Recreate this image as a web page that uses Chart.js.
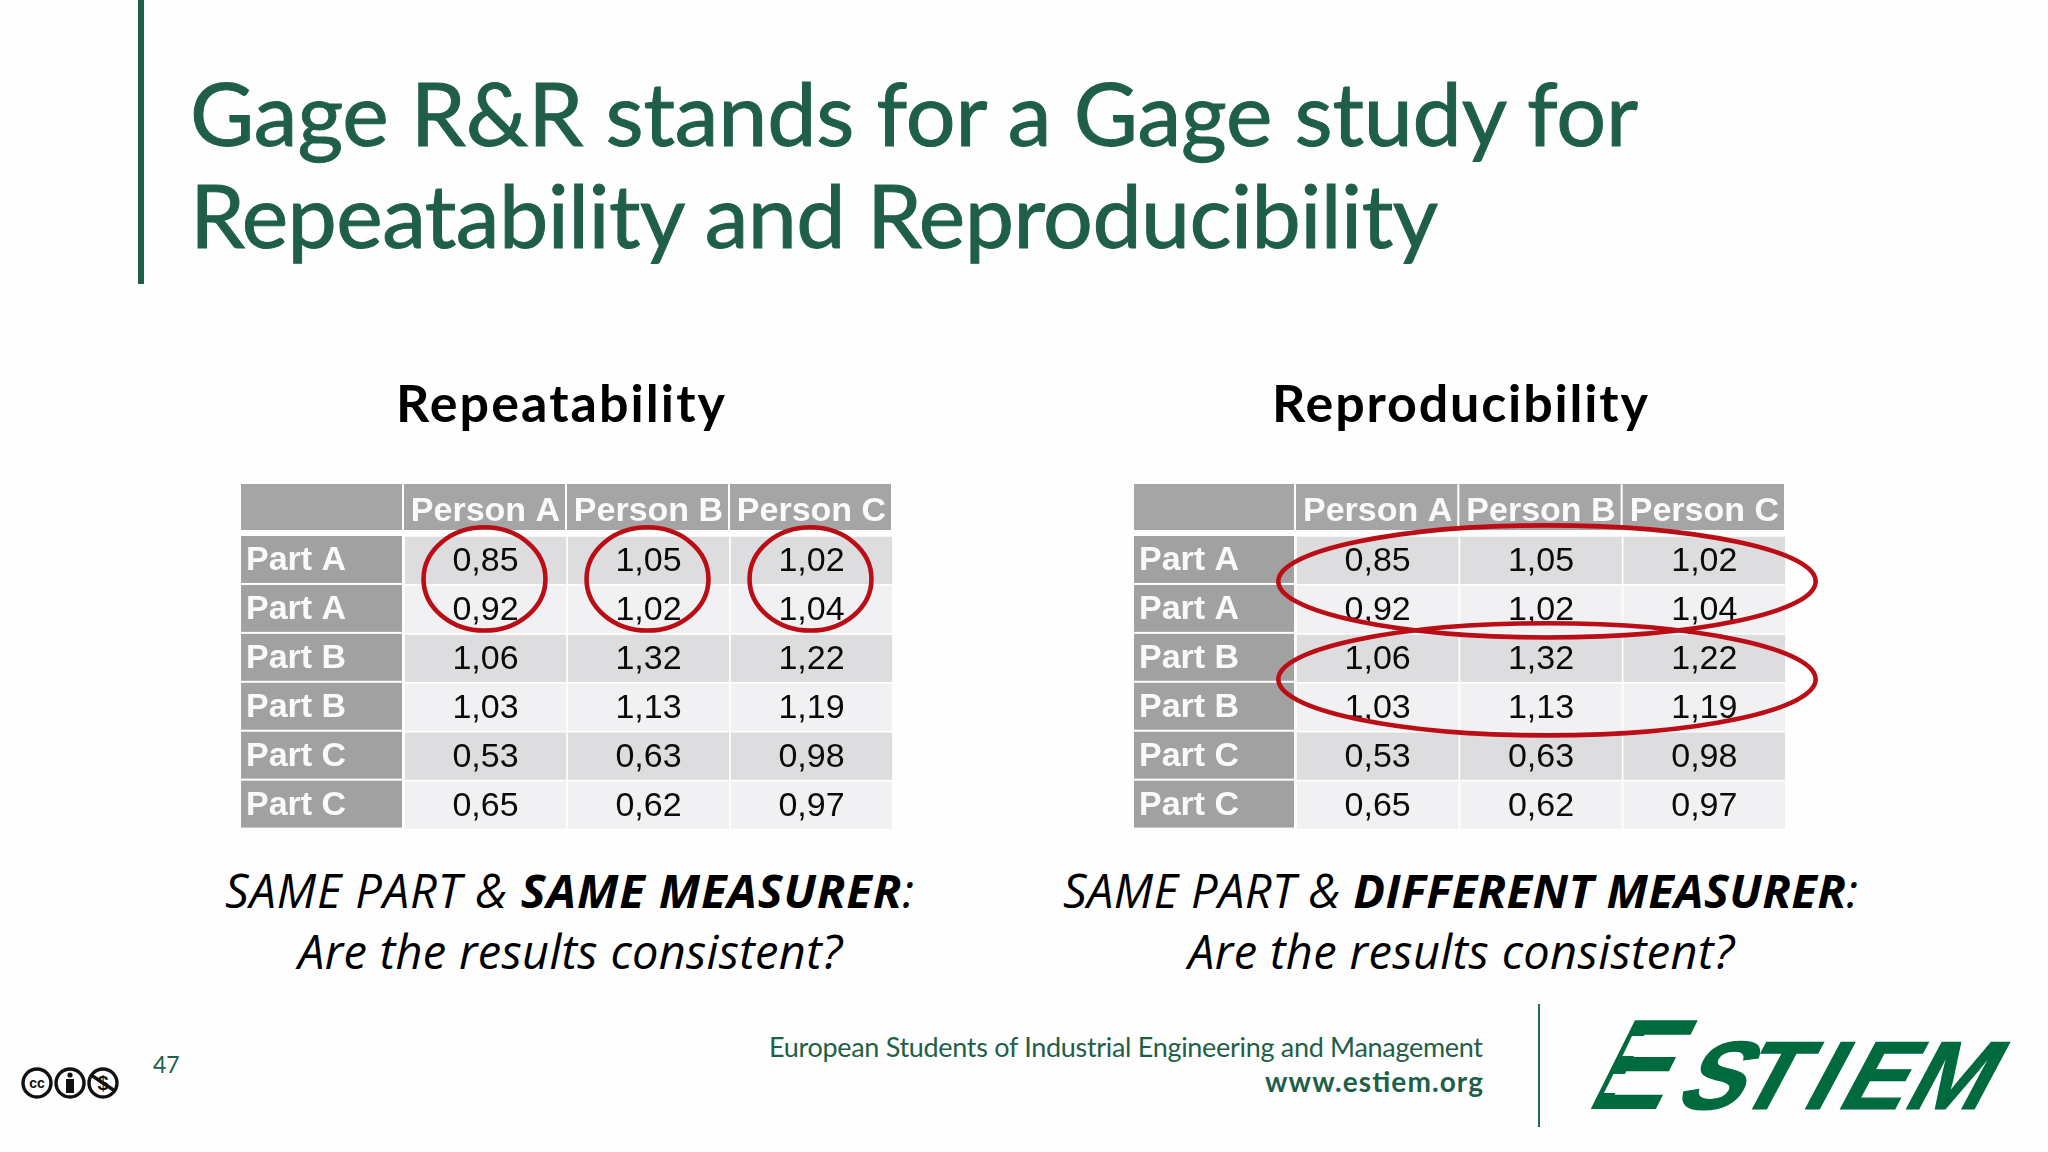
<!DOCTYPE html>
<html><head><meta charset="utf-8">
<script src="https://cdn.jsdelivr.net/npm/chart.js@4/dist/chart.umd.min.js"></script>
<style>
html,body{margin:0;padding:0;width:2048px;height:1152px;overflow:hidden;background:#fefefe}
svg.page{position:absolute;left:0;top:0}
canvas{position:absolute}
</style></head><body>
<svg class="page" width="2048" height="1152" xmlns="http://www.w3.org/2000/svg">
  <rect x="138" y="0" width="6" height="284" fill="#1f5f47"/>
  <g font-family="Lato" fill="#1f5f47" stroke="#1f5f47" stroke-width="1" font-size="88">
    <text x="190" y="146" textLength="1448">Gage R&amp;R stands for a Gage study for</text>
    <text x="190" y="248" textLength="1248">Repeatability and Reproducibility</text>
  </g>
  <g font-family="Lato" font-weight="700" font-size="52" fill="#000">
    <text x="396" y="422" textLength="329">Repeatability</text>
    <text x="1272" y="422" textLength="376">Reproducibility</text>
  </g>
  <g font-family="Open Sans" font-style="italic" font-size="47" fill="#000">
    <text x="225" y="908" textLength="689">SAME PART &amp; <tspan font-weight="700">SAME MEASURER</tspan>:</text>
    <text x="298" y="969" textLength="544">Are the results consistent?</text>
    <text x="1063" y="908" textLength="795">SAME PART &amp; <tspan font-weight="700">DIFFERENT MEASURER</tspan>:</text>
    <text x="1188" y="969" textLength="546">Are the results consistent?</text>
  </g>
  <text x="153" y="1073" font-family="Lato" font-size="23" fill="#1f5f47">47</text>
  <g fill="none" stroke="#111" stroke-width="3.4">
    <circle cx="37" cy="1083" r="14"/><circle cx="70" cy="1083" r="14"/><circle cx="103" cy="1083" r="14"/>
    <line x1="91" y1="1075" x2="115" y2="1091"/>
  </g>
  <text x="37" y="1088" text-anchor="middle" font-family="Liberation Sans" font-weight="700" font-size="14" fill="#111">cc</text>
  <circle cx="70" cy="1075" r="2.6" fill="#111"/>
  <rect x="66" y="1079" width="8" height="14" fill="#111"/>
  <text x="103" y="1090" text-anchor="middle" font-family="Liberation Sans" font-weight="700" font-size="20" fill="#111">$</text>
  <g font-family="Lato" fill="#1f5f47">
    <text x="769" y="1057" font-size="27" textLength="714">European Students of Industrial Engineering and Management</text>
    <text x="1265" y="1092" font-size="28" font-weight="700" textLength="218">www.estiem.org</text>
  </g>
  <rect x="1538" y="1004" width="2" height="123" fill="#1f7050"/>
  <g font-family="Liberation Sans" font-weight="700" fill="#006a3f">
    <text transform="translate(1583,1109) skewX(-26.5) scale(0.9,1)" font-size="129">E</text>
    <polygon points="1632,1036 1715,1036 1705,1056 1622.5,1056" fill="#fefefe"/>
    <polygon points="1613.5,1074 1685,1074 1675,1093 1604,1093" fill="#fefefe"/>
    <text transform="translate(0,1109) skewX(-28)" font-size="97" stroke="#006a3f" stroke-width="1.2" x="1672 1730 1799 1834 1900">STIEM</text>
  </g>
</svg>
<canvas id="tableLeft" width="700" height="380" style="left:220px;top:470px;width:700px;height:380px"></canvas>
<canvas id="tableRight" width="730" height="380" style="left:1110px;top:470px;width:730px;height:380px"></canvas>
<script>
const partLabels = ['Part A','Part A','Part B','Part B','Part C','Part C'];
const personLabels = ['Person A','Person B','Person C'];
const personAValues = [0.85,0.92,1.06,1.03,0.53,0.65];
const personBValues = [1.05,1.02,1.32,1.13,0.63,0.62];
const personCValues = [1.02,1.04,1.22,1.19,0.98,0.97];
const repeatabilityGroups = [[0,0,1],[1,0,1],[2,0,1]];
const reproducibilityGroups = [[1,0,1],[1,2,3]];

const seriesValues = [personAValues, personBValues, personCValues];
const fmt = v => v.toFixed(2).replace('.', ',');
const FONT = '"Liberation Sans"';

function tablePlugin(groups, rxFactor, ryFactor, dx, dy) {
  return {
    id: 'tableCells',
    beforeDraw(chart) {
      const {ctx, scales:{x, y}} = chart;
      ctx.save();
      ctx.fillStyle = '#a5a5a6';
      const top = x.top, headH = 46;
      ctx.fillRect(y.left - 5, top, y.right - y.left + 3, headH);
      personLabels.forEach((p, i) => {
        const l = x.getPixelForValue(i), r = x.getPixelForValue(i + 1);
        ctx.fillRect(l, top, r - l - 2, headH);
      });
      partLabels.forEach((p, i) => {
        const t = y.getPixelForValue(i - 0.5), b = y.getPixelForValue(i + 0.5);
        ctx.fillStyle = '#a1a1a2';
        ctx.fillRect(y.left - 5, t, y.right - y.left + 3, b - t - 2);
      });
      ctx.restore();
    },
    afterDatasetsDraw(chart) {
      const {ctx, scales:{x, y}} = chart;
      ctx.save();
      ctx.font = '34px ' + FONT;
      ctx.fillStyle = '#0a0a0a';
      ctx.textAlign = 'center';
      ctx.textBaseline = 'middle';
      seriesValues.forEach((vals, c) => vals.forEach((v, r) => {
        ctx.fillText(fmt(v), x.getPixelForValue(c + 0.5), y.getPixelForValue(r) + 1);
      }));
      ctx.restore();
    },
    afterDraw(chart) {
      const {ctx, scales:{x, y}} = chart;
      const colW = x.getPixelForValue(1) - x.getPixelForValue(0);
      const rowH = y.getPixelForValue(1) - y.getPixelForValue(0);
      ctx.save();
      ctx.strokeStyle = '#bb0d16';
      ctx.lineWidth = 4.6;
      groups.forEach(([c, r0, r1]) => {
        ctx.beginPath();
        ctx.ellipse(x.getPixelForValue(c + 0.5) + dx,
                    y.getPixelForValue((r0 + r1) / 2) + dy,
                    colW * rxFactor, rowH * ryFactor, 0, 0, Math.PI * 2);
        ctx.stroke();
      });
      ctx.restore();
    }
  };
}

function makeTable(id, padding, axisW, groups, rx, ry, dx, dy) {
  return new Chart(document.getElementById(id), {
    type: 'bar',
    data: {
      labels: partLabels,
      datasets: seriesValues.map((vals, c) => ({
        label: personLabels[c],
        data: vals.map(() => 1),
        backgroundColor: vals.map((v, r) => r % 2 ? '#f1f1f3' : '#dddddf'),
        borderColor: '#fefefe',
        borderWidth: 1.2,
        borderSkipped: false,
        barPercentage: 1,
        categoryPercentage: 1
      }))
    },
    options: {
      indexAxis: 'y',
      responsive: false,
      animation: false,
      layout: {padding},
      plugins: {legend: {display: false}, tooltip: {enabled: false}},
      scales: {
        x: {
          type: 'linear', position: 'top', stacked: true, min: 0, max: 3,
          border: {display: false},
          grid: {display: false, drawTicks: false},
          afterBuildTicks(s) { s.ticks = personLabels.map((p, i) => ({value: i + 0.5})); },
          afterTickToLabelConversion(s) { s.ticks.forEach((t, i) => t.label = personLabels[i]); },
          afterFit(s) { s.height = 52; },
          ticks: {maxRotation: 0, autoSkip: false, padding: 4, color: '#fafafa',
                  font: {family: 'Liberation Sans', weight: 'bold', size: 34}}
        },
        y: {
          type: 'category', stacked: true,
          border: {display: false},
          grid: {display: false, drawTicks: false},
          afterFit(s) { s.width = axisW; },
          ticks: {crossAlign: 'far', autoSkip: false, padding: 0, color: '#fafafa',
                  font: {family: 'Liberation Sans', weight: 'bold', size: 34}}
        }
      }
    },
    plugins: [tablePlugin(groups, rx, ry, dx, dy)]
  });
}
makeTable('tableLeft', {left:26, top:14, right:27, bottom:12}, 158, repeatabilityGroups, 0.374, 1.055, -1, -6);
makeTable('tableRight', {left:29, top:14, right:54, bottom:12}, 157, reproducibilityGroups, 1.645, 1.145, 6, -3.5);
</script>
</body></html>
